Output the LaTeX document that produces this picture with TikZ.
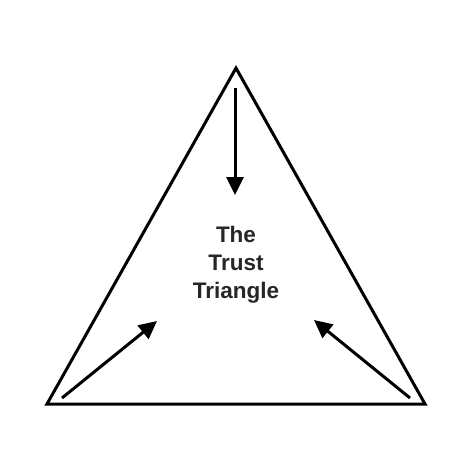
\documentclass[tikz,border=0pt]{standalone}
\usepackage{fontspec}
\setmainfont{Liberation Sans}
\usetikzlibrary{arrows.meta}
\begin{document}
\begin{tikzpicture}[x=1pt,y=-1pt,
  edge/.style={line width=3pt,line join=miter},
  arr/.style={line width=3pt,-{Triangle[length=18pt,width=17pt]}},
  lbl/.style={font=\bfseries\fontsize{22.5}{28}\selectfont,align=center,text=black!85}]
\useasboundingbox (0,0) rectangle (474,474);
\coordinate (A) at (236,68);
\coordinate (L) at (47,404);
\coordinate (R) at (425,404);
\draw[edge] (A) -- (L) -- (R) -- cycle;
\coordinate (t0) at (235,88);
\coordinate (t1) at (235,195);
\coordinate (l0) at (62,398);
\coordinate (l1) at (157,321);
\coordinate (r0) at (410,398);
\coordinate (r1) at (314,320);
\draw[arr] (t0) -- (t1);
\draw[arr] (l0) -- (l1);
\draw[arr] (r0) -- (r1);
\node[lbl] (title) at (236,265) {The\\Trust\\Triangle};
\end{tikzpicture}
\end{document}
